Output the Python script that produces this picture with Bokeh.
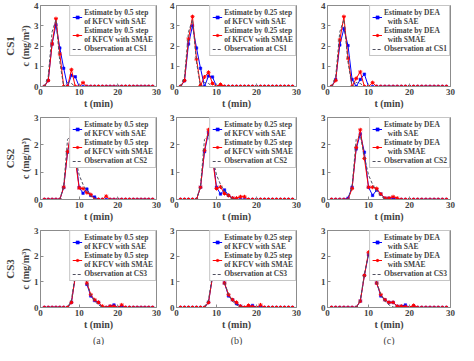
from bokeh.plotting import figure
from bokeh.layouts import column, row
from bokeh.models import Legend, LegendItem, Title, Range1d
from bokeh.embed import file_html
from bokeh.resources import INLINE

# time (min)
t = list(range(1, 30))

# ---------------- CS1 ----------------
obs_cs1 = [0, 0.5, 2.7, 3.3, 1.2, 0, 0.2, 0.15, 0, 0,
           0, 0, 0, 0, 0, 0, 0, 0, 0, 0,
           0, 0, 0, 0, 0, 0, 0, 0, 0]
a_sae_cs1 = [0, 0.3, 2.1, 3.05, 1.9, 0.9, 0, 0.55, 0.48, 0,
             0, 0, 0, 0, 0, 0, 0, 0, 0, 0,
             0, 0, 0, 0, 0, 0, 0, 0, 0]
a_smae_cs1 = [0, 0.3, 2.1, 3.35, 1.6, 0, 0, 0.83, 0, 0,
              0.19, 0, 0, 0, 0, 0, 0, 0, 0, 0,
              0, 0, 0, 0, 0, 0, 0, 0, 0]
b_sae_cs1 = [0, 0.28, 2.1, 3.0, 1.9, 0.9, 0, 0.52, 0.47, 0,
             0, 0, 0, 0, 0, 0, 0, 0, 0, 0,
             0, 0, 0, 0, 0, 0, 0, 0, 0]
b_smae_cs1 = [0, 0.3, 2.35, 3.45, 1.35, 0.05, 0.47, 0.7, 0.15, 0,
              0.1, 0, 0, 0, 0, 0, 0, 0, 0, 0,
              0, 0, 0, 0, 0, 0, 0, 0, 0]
c_sae_cs1 = [0, 0.34, 2.05, 2.86, 2.02, 0.35, 0, 0.35, 0.61, 0,
             0, 0, 0, 0, 0, 0, 0, 0, 0, 0,
             0, 0, 0, 0, 0, 0, 0, 0, 0]
c_smae_cs1 = [0, 0.3, 2.3, 3.45, 1.4, 0, 0.4, 0.72, 0, 0,
              0.19, 0, 0, 0, 0, 0, 0, 0, 0, 0,
              0, 0, 0, 0, 0, 0, 0, 0, 0]

# ---------------- CS2 ----------------
obs_cs2 = [0, 0, 0, 0, 0, 0.5, 2.2, 2.35, 1.55, 0.9,
           0.55, 0.3, 0.12, 0.03, 0, 0, 0, 0, 0, 0,
           0, 0, 0, 0, 0, 0, 0, 0, 0]
a_sae_cs2 = [0, 0, 0, 0, 0, 0.44, 1.73, 2.46, 1.64, 0.44,
             0.23, 0.38, 0.15, 0.09, 0, 0, 0, 0, 0, 0,
             0, 0, 0, 0, 0, 0, 0, 0, 0]
a_smae_cs2 = [0, 0, 0, 0, 0, 0.45, 1.75, 2.55, 1.45, 0.42,
              0.4, 0.25, 0.18, 0, 0, 0, 0.12, 0, 0, 0,
              0, 0, 0, 0, 0, 0, 0, 0, 0]
b_sae_cs2 = [0, 0, 0, 0, 0, 0.45, 1.75, 2.45, 1.65, 0.45,
             0.2, 0.35, 0.15, 0.05, 0, 0, 0, 0, 0, 0,
             0, 0, 0, 0, 0, 0, 0, 0, 0]
b_smae_cs2 = [0, 0, 0, 0, 0, 0.45, 1.8, 2.55, 1.5, 0.4,
              0.46, 0.22, 0.15, 0.05, 0.05, 0.1, 0.1, 0, 0, 0,
              0, 0, 0, 0, 0, 0, 0, 0, 0]
c_sae_cs2 = [0, 0, 0, 0, 0.05, 0.45, 1.85, 2.4, 1.73, 0.45,
             0.15, 0.35, 0.2, 0.05, 0.05, 0.05, 0, 0, 0, 0,
             0, 0, 0, 0, 0, 0, 0, 0, 0]
c_smae_cs2 = [0, 0, 0, 0, 0, 0.4, 1.9, 2.55, 1.5, 0.45,
              0.45, 0.4, 0.2, 0.05, 0.05, 0.1, 0.05, 0, 0, 0,
              0, 0, 0, 0, 0, 0, 0, 0, 0]

# ---------------- CS3 ----------------
obs_cs3 = [0, 0, 0, 0, 0, 0, 0, 0.3, 1.3, 2.1,
           1.8, 1.0, 0.5, 0.25, 0.1, 0.02, 0, 0, 0, 0,
           0, 0, 0, 0, 0, 0, 0, 0, 0]
a_sae_cs3 = [0, 0, 0, 0, 0, 0, 0, 0.2, 1.2, 2.1,
             1.85, 0.9, 0.45, 0.27, 0.2, 0, 0, 0.05, 0.1, 0,
             0.05, 0, 0, 0, 0, 0, 0, 0, 0]
a_smae_cs3 = [0, 0, 0, 0, 0, 0, 0, 0.2, 1.2, 2.15,
              1.85, 0.95, 0.5, 0.3, 0.2, 0.05, 0, 0.05, 0.05, 0,
              0.1, 0, 0, 0, 0, 0, 0, 0, 0]
b_sae_cs3 = [0, 0, 0, 0, 0, 0, 0, 0.2, 1.2, 2.1,
             1.9, 0.95, 0.45, 0.3, 0.15, 0.05, 0, 0.02, 0.08, 0,
             0.03, 0, 0, 0, 0, 0, 0, 0, 0]
b_smae_cs3 = [0, 0, 0, 0, 0, 0, 0, 0.2, 1.2, 2.15,
              1.85, 0.95, 0.5, 0.3, 0.2, 0.05, 0, 0.08, 0.03, 0,
              0.1, 0, 0, 0, 0, 0, 0, 0, 0]
c_sae_cs3 = [0, 0, 0, 0, 0, 0, 0, 0.25, 1.25, 2.06,
             1.92, 0.95, 0.45, 0.3, 0.2, 0.2, 0.05, 0.05, 0.1, 0,
             0.05, 0, 0, 0, 0, 0, 0, 0, 0]
c_smae_cs3 = [0, 0, 0, 0, 0, 0, 0, 0.25, 1.25, 2.15,
              1.8, 0.95, 0.5, 0.3, 0.2, 0.2, 0.05, 0.05, 0.03, 0,
              0.08, 0, 0, 0, 0, 0, 0, 0, 0]

x_ticks = [0, 10, 20, 30]
y_max = [4, 3, 3]
row_names = ["CS1", "CS2", "CS3"]
col_letters = ["(a)", "(b)", "(c)"]
sae_labels = ["Estimate by 0.5 step\nof KFCV with SAE",
              "Estimate by 0.25 step\nof KFCV with SAE",
              "Estimate by DEA\n  with SAE"]
smae_labels = ["Estimate by 0.5 step\nof KFCV with SMAE",
               "Estimate by 0.25 step\nof KFCV with SMAE",
               "Estimate by DEA\n  with SMAE"]

data = [
    [(a_sae_cs1, a_smae_cs1), (b_sae_cs1, b_smae_cs1), (c_sae_cs1, c_smae_cs1)],
    [(a_sae_cs2, a_smae_cs2), (b_sae_cs2, b_smae_cs2), (c_sae_cs2, c_smae_cs2)],
    [(a_sae_cs3, a_smae_cs3), (b_sae_cs3, b_smae_cs3), (c_sae_cs3, c_smae_cs3)],
]
obs = [obs_cs1, obs_cs2, obs_cs3]

FONT = "Liberation Serif"
GREY = "#8c8c8c"

# layout (pixels)
col_w = [166, 140, 152]
col_bl = [36, 10, 21]
col_br = [10, 10, 8]
row_h = [111, 113, 121]
row_bt = [5, 6, 6]
row_bb = [25, 25, 34]

rows = []
for r in range(3):
    figs = []
    for c in range(3):
        sae, smae = data[r][c]
        p = figure(width=col_w[c], height=row_h[r],
                   x_range=Range1d(0, 30), y_range=Range1d(0, y_max[r]),
                   output_backend="svg", toolbar_location=None,
                   min_border_left=col_bl[c], min_border_right=col_br[c],
                   min_border_top=row_bt[r], min_border_bottom=row_bb[r])
        p.grid.visible = False
        p.outline_line_color = GREY
        p.xaxis.ticker = x_ticks
        p.yaxis.ticker = list(range(y_max[r] + 1))
        for ax in (p.xaxis, p.yaxis):
            ax.major_tick_in = 3
            ax.major_tick_out = 0
            ax.minor_tick_line_color = None
            ax.axis_line_color = GREY
            ax.major_tick_line_color = GREY
            ax.major_label_text_font = FONT
            ax.major_label_text_font_style = "bold"
            ax.major_label_text_font_size = "9px"
            ax.major_label_standoff = 2
            ax.axis_label_text_font = FONT
            ax.axis_label_text_font_style = "bold"
            ax.axis_label_text_font_size = "10px"
            ax.axis_label_standoff = 0
        p.xaxis.axis_label = "t (min)"
        if c == 0:
            p.yaxis.axis_label = "c (mg/m³)"
            p.add_layout(Title(text=row_names[r], align="center",
                               text_font=FONT, text_font_style="bold",
                               text_font_size="11px", standoff=2), "left")
        if r == 2:
            p.add_layout(Title(text=col_letters[c], align="center",
                               text_font=FONT, text_font_style="normal",
                               text_font_size="10px", standoff=0), "below")

        lb = p.line(t, sae, line_color="#0000ff", line_width=1)
        mb = p.scatter(t, sae, marker="square", size=2.5, line_width=0.5,
                       color="#0000ff")
        lr = p.line(t, smae, line_color="#ff0000", line_width=1)
        mr = p.scatter(t, smae, marker="asterisk", size=4, line_width=1,
                       line_color="#ff0000")
        lo = p.line(t, obs[r], line_color="#505060", line_width=1, line_dash="3 2")

        legend = Legend(items=[
            LegendItem(label=sae_labels[c], renderers=[lb, mb]),
            LegendItem(label=smae_labels[c], renderers=[lr, mr]),
            LegendItem(label="Observation at " + row_names[r], renderers=[lo]),
        ], location="top_right")
        legend.margin = 0
        legend.padding = 2
        legend.spacing = 0
        legend.glyph_width = 10
        legend.glyph_height = 8
        legend.label_height = 8
        legend.label_standoff = 2
        legend.label_text_font = FONT
        legend.label_text_font_style = "bold"
        legend.label_text_font_size = "7.5px"
        legend.label_text_line_height = 1.1
        legend.border_line_color = GREY
        legend.background_fill_alpha = 1
        p.add_layout(legend)
        figs.append(p)
    rows.append(row(*figs))

layout = column(*rows)
open("out.html", "w").write(file_html(layout, INLINE))
